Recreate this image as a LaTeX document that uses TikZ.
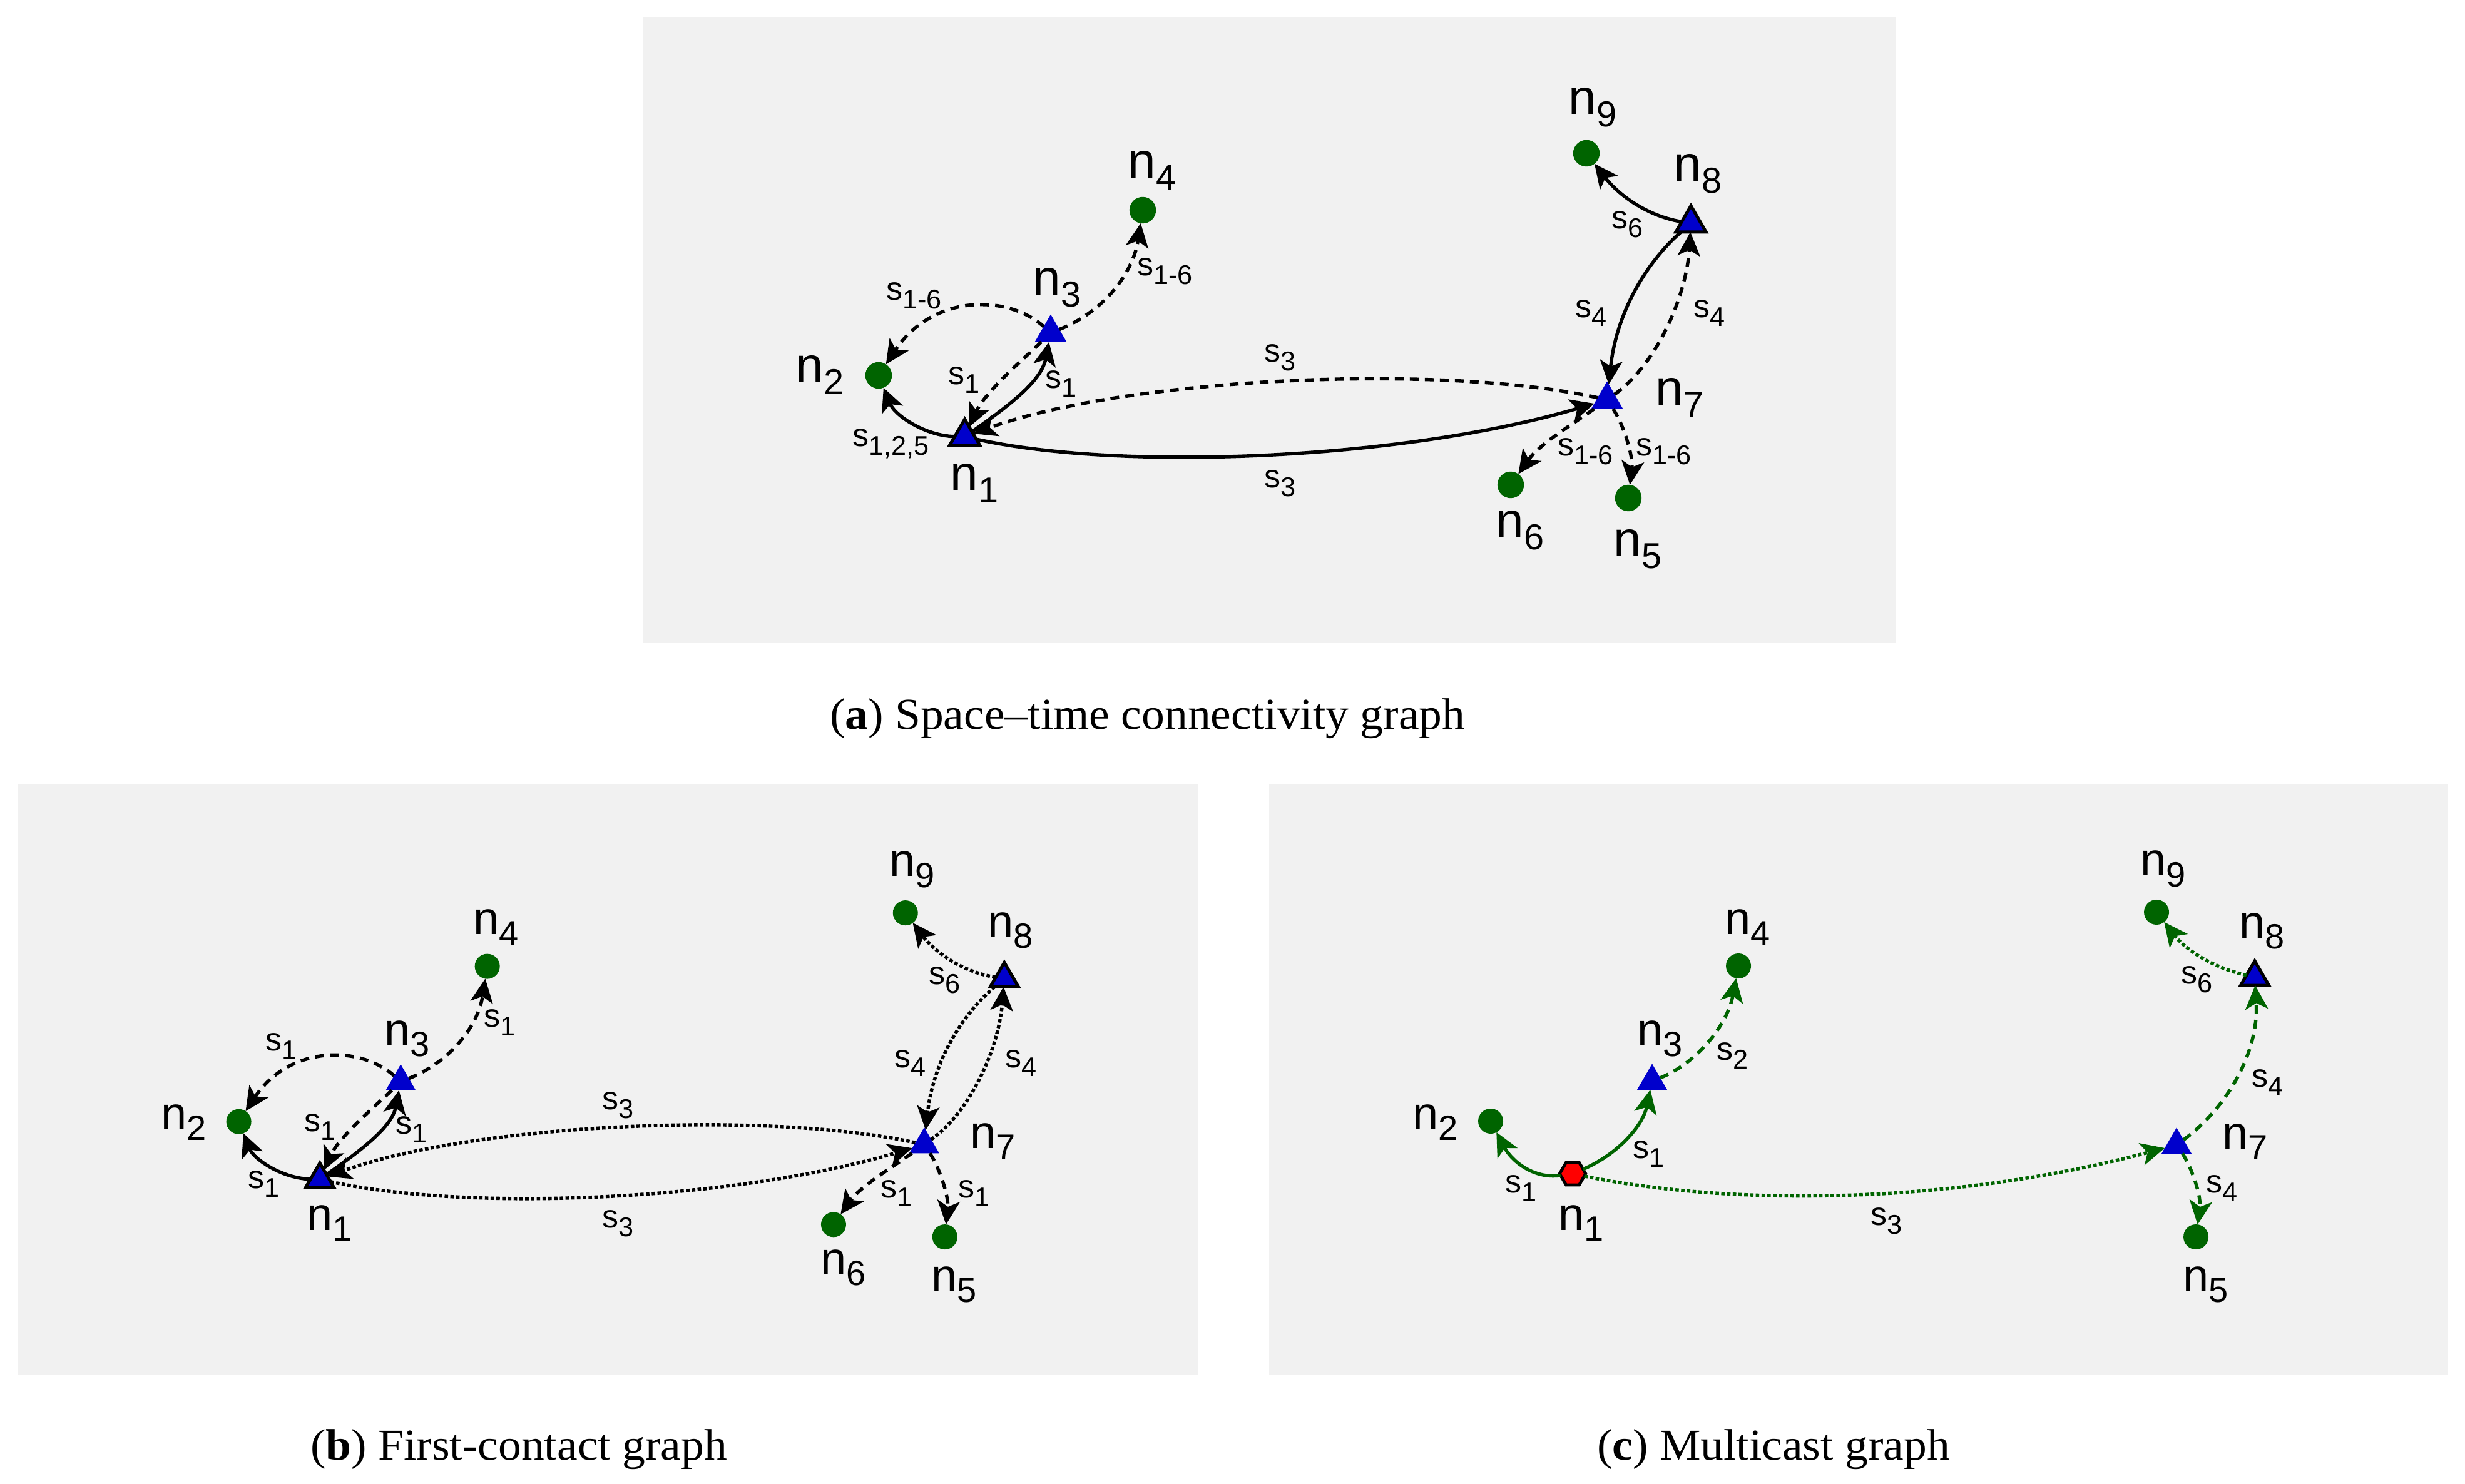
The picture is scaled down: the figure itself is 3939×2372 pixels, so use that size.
\documentclass[tikz,border=0pt]{standalone}
\usepackage{fontspec}
\setmainfont{Liberation Sans}
\newfontfamily\capfont{Liberation Serif}
\usetikzlibrary{arrows.meta,shapes.geometric}
\definecolor{panelgrey}{HTML}{F1F1F1}
\definecolor{nodeblue}{RGB}{0,0,204}
\definecolor{nodegreen}{RGB}{0,100,0}
\newcommand\nA[1]{\kern-1.3pt{\fontsize{20}{20}\selectfont n}\raisebox{-4.7pt}{\fontsize{14.4}{14.4}\selectfont #1}}
\newcommand\nB[1]{\kern-1.2pt{\fontsize{18.5}{18.5}\selectfont n}\raisebox{-4.4pt}{\fontsize{14}{14}\selectfont #1}}
\newcommand\sL[1]{{\fontsize{13}{13}\selectfont s}\raisebox{-3.5pt}{\fontsize{10.8}{10.8}\selectfont #1}}
\newcommand\cpt[2]{\scalebox{1.045}[1]{\capfont (\textbf{#1}) #2}}
\tikzset{
  x=0.25pt,y=-0.25pt,
  panelbox/.style={fill=panelgrey,draw=none},
  greendot/.style={circle,fill=nodegreen,draw=none,minimum size=#1,inner sep=0pt,outer sep=0pt},
  greendot/.default=10.6pt,
  plaintri/.style={regular polygon,regular polygon sides=3,fill=nodeblue,draw=none,minimum size=#1,inner sep=0pt,outer sep=0pt},
  plaintri/.default=14.7pt,
  linetri/.style={regular polygon,regular polygon sides=3,fill=nodeblue,draw=black,line width=1.25pt,minimum size=#1,inner sep=0pt,outer sep=0pt},
  linetri/.default=14pt,
  hexnode/.style={regular polygon,regular polygon sides=6,fill=red,draw=black,line width=1.2pt,minimum size=10.4pt,inner sep=0pt,outer sep=0pt},
  lab/.style={anchor=base west,inner sep=0pt,outer sep=0pt},
  captext/.style={anchor=base west,inner sep=0pt,outer sep=0pt,font=\fontsize{17.6}{17.6}\selectfont},
  linkedge/.style={line width=1.35pt,-{Stealth[length=9.5pt,width=9pt,inset=2.4pt]}},
  solidedge/.style={linkedge},
  dashedge/.style={linkedge,dash pattern=on 3.5pt off 2.5pt},
  dotedge/.style={linkedge,dash pattern=on 1.4pt off 0.9pt},
  gsolid/.style={solidedge,draw=nodegreen},
  gdash/.style={dashedge,draw=nodegreen},
  gdot/.style={dotedge,draw=nodegreen},
}
\begin{document}
\begin{tikzpicture}
\useasboundingbox (0,0) rectangle (3939,2372);
\fill[white] (0,0) rectangle (3939,2372);
\path[panelbox] (1028,27) rectangle (3030,1028);
\path[panelbox] (28,1253) rectangle (1914,2198);
\path[panelbox] (2028,1253) rectangle (3912,2198);

% ---------- panel a ----------
\node[linetri] (a1) at (1541.6,698) {};
\node[greendot] (a2) at (1404,600) {};
\node[plaintri] (a3) at (1679,532) {};
\node[greendot] (a4) at (1826,336) {};
\node[greendot] (a5) at (2602,796) {};
\node[greendot] (a6) at (2414,775) {};
\node[plaintri] (a7) at (2568,639) {};
\node[linetri] (a8) at (2702,357) {};
\node[greendot] (a9) at (2535,245) {};

\draw[solidedge] (a1) .. controls (1480,697) and (1430,665) .. (a2);
\draw[solidedge] (a1) .. controls (1625,640) and (1665,605) .. (a3);
\draw[dashedge] (a3) .. controls (1640,570) and (1575,625) .. (a1);
\draw[dashedge] (a3) .. controls (1610,470) and (1490,470) .. (a2);
\draw[dashedge] (a3) .. controls (1760,500) and (1810,440) .. (a4);
\draw[dashedge] (a7) .. controls (2300,580) and (1800,604) .. (a1);
\draw[solidedge] (a1) .. controls (1800,755) and (2250,733) .. (a7);
\draw[solidedge] (a8) .. controls (2630,420) and (2583,500) .. (a7);
\draw[dashedge] (a7) .. controls (2650,580) and (2695,470) .. (a8);
\draw[solidedge] (a8) .. controls (2630,345) and (2585,310) .. (a9);
\draw[dashedge] (a7) .. controls (2510,680) and (2460,710) .. (a6);
\draw[dashedge] (a7) .. controls (2595,680) and (2610,730) .. (a5);

\node[lab] (ln1a) at (1524,785) {\nA{1}};
\node[lab] (ln2a) at (1277,612) {\nA{2}};
\node[lab] (ln3a) at (1656,472) {\nA{3}};
\node[lab] (ln4a) at (1808,285) {\nA{4}};
\node[lab] (ln5a) at (2584,890) {\nA{5}};
\node[lab] (ln6a) at (2396,860) {\nA{6}};
\node[lab] (ln7a) at (2651,648) {\nA{7}};
\node[lab] (ln8a) at (2680,290) {\nA{8}};
\node[lab] (ln9a) at (2512,184) {\nA{9}};
\node[lab] (sa1) at (1416,480) {\sL{1-6}};
\node[lab] (sa2) at (1817,441) {\sL{1-6}};
\node[lab] (sa3) at (1515,615) {\sL{1}};
\node[lab] (sa4) at (1670,621) {\sL{1}};
\node[lab] (sa5) at (1362,714) {\sL{1,2,5}};
\node[lab] (sa6) at (2020,579) {\sL{3}};
\node[lab] (sa7) at (2020,780) {\sL{3}};
\node[lab] (sa8) at (2575,366) {\sL{6}};
\node[lab] (sa9) at (2517,508) {\sL{4}};
\node[lab] (sa10) at (2706,508) {\sL{4}};
\node[lab] (sa11) at (2489,729) {\sL{1-6}};
\node[lab] (sa12) at (2614,729) {\sL{1-6}};
\node[captext] (capa) at (1326,1166) {\cpt{a}{Space–time connectivity graph}};

% ---------- panel b ----------
\begin{scope}[xshift=-234.9pt,yshift=-307.2pt,xscale=0.941,yscale=0.94]
\node[linetri=13pt] (b1) at (1541.6,698) {};
\node[greendot=10pt] (b2) at (1404,600) {};
\node[plaintri=13.8pt] (b3) at (1679,532) {};
\node[greendot=10pt] (b4) at (1826,336) {};
\node[greendot=10pt] (b5) at (2603,796) {};
\node[greendot=10pt] (b6) at (2414,775) {};
\node[plaintri=13.8pt] (b7) at (2568,639) {};
\node[linetri=13pt] (b8) at (2704,357) {};
\node[greendot=10pt] (b9) at (2536,245) {};
\draw[solidedge] (b1) .. controls (1480,697) and (1430,665) .. (b2);
\draw[solidedge] (b1) .. controls (1625,640) and (1665,605) .. (b3);
\draw[dashedge] (b3) .. controls (1640,570) and (1575,625) .. (b1);
\draw[dashedge] (b3) .. controls (1610,470) and (1490,470) .. (b2);
\draw[dashedge] (b3) .. controls (1760,500) and (1810,440) .. (b4);
\draw[dotedge] (b7) .. controls (2300,580) and (1800,604) .. (b1);
\draw[dotedge] (b1) .. controls (1800,755) and (2250,733) .. (b7);
\draw[dotedge] (b8) .. controls (2630,420) and (2583,500) .. (b7);
\draw[dotedge] (b7) .. controls (2650,580) and (2695,470) .. (b8);
\draw[dotedge] (b8) .. controls (2630,345) and (2585,310) .. (b9);
\draw[dashedge] (b7) .. controls (2510,680) and (2460,710) .. (b6);
\draw[dashedge] (b7) .. controls (2595,680) and (2610,730) .. (b5);
\end{scope}

\node[lab] (ln1b) at (495,1966) {\nB{1}};
\node[lab] (ln2b) at (262,1805) {\nB{2}};
\node[lab] (ln3b) at (619,1671) {\nB{3}};
\node[lab] (ln4b) at (761,1494) {\nB{4}};
\node[lab] (ln5b) at (1493,2064) {\nB{5}};
\node[lab] (ln6b) at (1316,2037) {\nB{6}};
\node[lab] (ln7b) at (1555,1835) {\nB{7}};
\node[lab] (ln8b) at (1583,1498) {\nB{8}};
\node[lab] (ln9b) at (1426,1401) {\nB{9}};
\node[lab] (sb1) at (424,1679) {\sL{1}};
\node[lab] (sb2) at (773,1641) {\sL{1}};
\node[lab] (sb3) at (486,1808) {\sL{1}};
\node[lab] (sb4) at (632,1812) {\sL{1}};
\node[lab] (sb5) at (396,1899) {\sL{1}};
\node[lab] (sb6) at (962,1773) {\sL{3}};
\node[lab] (sb7) at (962,1962) {\sL{3}};
\node[lab] (sb8) at (1484,1573) {\sL{6}};
\node[lab] (sb9) at (1429,1706) {\sL{4}};
\node[lab] (sb10) at (1606,1706) {\sL{4}};
\node[lab] (sb11) at (1407,1914) {\sL{1}};
\node[lab] (sb12) at (1531,1914) {\sL{1}};
\node[captext] (capb) at (496,2333) {\cpt{b}{First-contact graph}};

% ---------- panel c ----------
\node[hexnode] (c1) at (2513,1876) {};
\node[greendot=10pt] (c2) at (2382,1792) {};
\node[plaintri=13.8pt] (c3) at (2640,1728) {};
\node[greendot=10pt] (c4) at (2778,1544) {};
\node[greendot=10pt] (c5) at (3509,1977) {};
\node[plaintri=13.8pt] (c7) at (3478,1830) {};
\node[linetri=13pt] (c8) at (3603,1562) {};
\node[greendot=10pt] (c9) at (3446,1458) {};
\draw[gsolid] (c1) .. controls (2450,1885) and (2415,1855) .. (c2);
\draw[gsolid] (c1) .. controls (2585,1845) and (2625,1800) .. (c3);
\draw[gdash] (c3) .. controls (2710,1700) and (2760,1640) .. (c4);
\draw[gdot] (c1) .. controls (2750,1925) and (3100,1930) .. (c7);
\draw[gdash] (c7) .. controls (3560,1770) and (3610,1680) .. (c8);
\draw[gdot] (c8) .. controls (3530,1545) and (3490,1515) .. (c9);
\draw[gdash] (c7) .. controls (3500,1862) and (3518,1910) .. (c5);

\node[lab] (ln1c) at (2495,1966) {\nB{1}};
\node[lab] (ln2c) at (2262,1805) {\nB{2}};
\node[lab] (ln3c) at (2621,1671) {\nB{3}};
\node[lab] (ln4c) at (2761,1494) {\nB{4}};
\node[lab] (ln5c) at (3493,2064) {\nB{5}};
\node[lab] (ln7c) at (3556,1836) {\nB{7}};
\node[lab] (ln8c) at (3583,1499) {\nB{8}};
\node[lab] (ln9c) at (3425,1400) {\nB{9}};
\node[lab] (sc1) at (2609,1851) {\sL{1}};
\node[lab] (sc2) at (2405,1906) {\sL{1}};
\node[lab] (sc3) at (2743,1694) {\sL{2}};
\node[lab] (sc4) at (2989,1958) {\sL{3}};
\node[lab] (sc5) at (3598,1737) {\sL{4}};
\node[lab] (sc6) at (3525,1906) {\sL{4}};
\node[lab] (sc7) at (3485,1572) {\sL{6}};
\node[captext] (capc) at (2552,2333) {\cpt{c}{Multicast graph}};
\end{tikzpicture}
\end{document}
